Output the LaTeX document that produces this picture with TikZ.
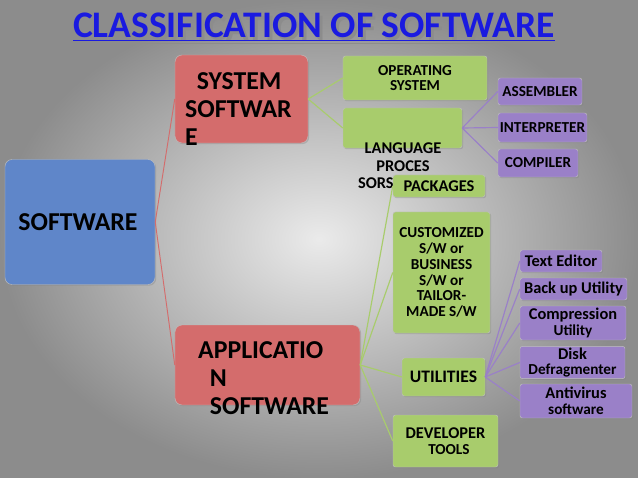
\documentclass[tikz,border=0pt]{standalone}
\usepackage{fontspec}
\setmainfont{Carlito}
\usetikzlibrary{positioning,shadows}
\definecolor{bluebox}{HTML}{5F86C9}
\definecolor{redbox}{HTML}{D46C6C}
\definecolor{greenbox}{HTML}{A8CC6C}
\definecolor{purplebox}{HTML}{9A80C8}
\definecolor{titleblue}{HTML}{1A1AE0}
\tikzset{
  box/.style={draw=black!25, rounded corners=2pt, inner sep=1pt, align=center,
    font=\bfseries\fontsize{13}{13.5}\selectfont, drop shadow={opacity=0.35, shadow xshift=1pt, shadow yshift=-1pt}},
  bluenode/.style={box, fill=bluebox, rounded corners=6pt},
  rednode/.style={box, fill=redbox, rounded corners=6pt},
  greennode/.style={box, fill=greenbox},
  purplenode/.style={box, fill=purplebox},
  bigtext/.style={font=\bfseries\fontsize{22}{24}\selectfont, align=left, inner sep=0pt},
  redline/.style={draw=redbox, line width=0.8pt},
  greenline/.style={draw=greenbox, line width=1pt},
  purpleline/.style={draw=purplebox, line width=1pt}
}
\begin{document}
\begin{tikzpicture}[x=0.03cm, y=-0.03cm]
  \shade[inner color=white!92!black, outer color=black!45] (0,0) rectangle (638,478);
  \useasboundingbox (0,0) rectangle (638,478);
  % title
  \node[text=black!45] (titleshadow) at (317,30) {\bfseries\fontsize{32}{34}\selectfont\underline{CLASSIFICATION OF SOFTWARE}};
  \node[text=titleblue] (title) at (314,27) {\bfseries\fontsize{32}{34}\selectfont\underline{CLASSIFICATION OF SOFTWARE}};
  % main boxes
  \node[bluenode, minimum width=4.5cm, minimum height=3.75cm] (sw) at (80,222) {};
  \node[bigtext] (swtext) at (78,222) {SOFTWARE};
  \node[rednode, minimum width=3.99cm, minimum height=2.64cm] (sys) at (241.5,99) {};
  \node[bigtext, anchor=north west] (systext) at (185,72) {\ \ SYSTEM\\SOFTWAR\\E};
  \node[rednode, minimum width=5.55cm, minimum height=2.4cm] (app) at (267.5,365) {};
  \node[bigtext, anchor=north west] (apptext) at (198,341) {APPLICATIO\\\ \ N\\\ \ SOFTWARE};
  % system software side
  \node[greennode, minimum width=4.32cm, minimum height=1.32cm] (op) at (415,78) {OPERATING\\SYSTEM};
  \node[greennode, minimum width=3.57cm, minimum height=1.2cm] (lang) at (402.5,128) {};
  \node[purplenode, minimum width=2.52cm, minimum height=0.81cm] (asm) at (540,91.5) {ASSEMBLER};
  \node[purplenode, minimum width=2.67cm, minimum height=0.87cm] (int) at (542.5,127.5) {INTERPRETER};
  \node[purplenode, minimum width=2.4cm, minimum height=0.84cm] (comp) at (538,163) {COMPILER};
  \node[font=\bfseries\fontsize{14}{15}\selectfont, align=center, inner sep=0pt] (langtext) at (403,166) {LANGUAGE\\PROCES\\SORS\phantom{XXXXXX}};
  % application side
  \node[greennode, minimum width=2.76cm, minimum height=0.66cm] (pkg) at (439,186) {\fontsize{14}{15}\selectfont PACKAGES};
  \node[greennode, minimum width=2.91cm, minimum height=3.63cm] (cust) at (441.5,272.5) {CUSTOMIZED\\S/W or\\BUSINESS\\S/W or\\TAILOR-\\MADE S/W};
  \node[greennode, minimum width=2.49cm, minimum height=1.14cm] (util) at (443.5,377) {\fontsize{15}{16}\selectfont UTILITIES};
  \node[greennode, minimum width=3.15cm, minimum height=1.56cm] (dev) at (445.5,441) {\fontsize{14}{16}\selectfont DEVELOPER\\\ \ TOOLS};
  \node[purplenode, minimum width=2.46cm, minimum height=0.66cm] (te) at (561,261) {\fontsize{14}{15}\selectfont Text Editor};
  \node[purplenode, minimum width=3.21cm, minimum height=0.66cm] (bu) at (573.5,289) {\fontsize{14}{15}\selectfont Back up Utility};
  \node[purplenode, minimum width=3.18cm, minimum height=1.02cm] (cu) at (573,323) {\fontsize{14}{14}\selectfont Compression\\Utility};
  \node[purplenode, minimum width=3.15cm, minimum height=0.93cm] (dd) at (572.5,362.5) {\fontsize{14}{14}\selectfont Disk\\Defragmenter};
  \node[purplenode, minimum width=3.36cm, minimum height=1.02cm] (av) at (576,401) {\fontsize{14}{14}\selectfont Antivirus\\software};
  % connectors
  \draw[redline] (sw.east) -- (sys.west);
  \draw[redline] (sw.east) -- (app.west);
  \foreach \n in {op,lang} \draw[greenline] (sys.east) -- (\n.west);
  \foreach \n in {asm,int,comp} \draw[purpleline] (lang.east) -- (\n.west);
  \foreach \n in {pkg,cust,util,dev} \draw[greenline] (app.east) -- (\n.west);
  \foreach \n in {te,bu,cu,dd,av} \draw[purpleline] (util.east) -- (\n.west);
\end{tikzpicture}
\end{document}
